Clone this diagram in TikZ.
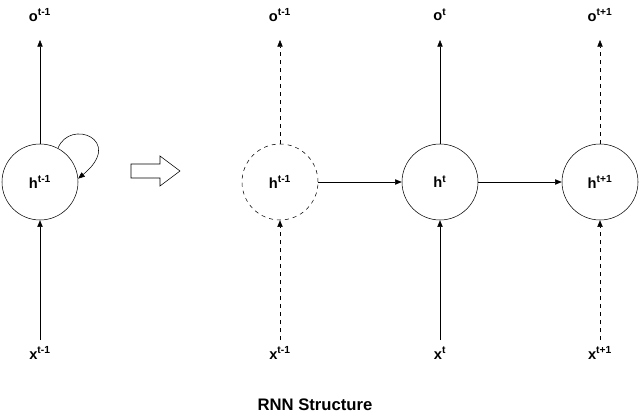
\documentclass[tikz,border=0pt]{standalone}
\usepackage{fontspec}
\setmainfont{Liberation Sans}
\usetikzlibrary{arrows.meta}
\tikzset{
  cell/.style={circle, draw, minimum size=57pt, inner sep=0pt, font=\bfseries\fontsize{11}{13}\selectfont},
  lbl/.style={font=\bfseries\fontsize{11}{13}\selectfont, inner sep=1pt},
  flow/.style={-{Triangle[length=5pt,width=4pt]}},
}
\newcommand{\rnncol}[5] {
  \node[cell, #5] at (#1,182) (h#2) {h\textsuperscript{#3}};
  \node[lbl] at (#1,353) (x#2) {x\textsuperscript{#3}};
  \node[lbl] at (#1,15) (o#2) {o\textsuperscript{#4}};
  \coordinate (top#2) at (#1,40);
  \coordinate (bot#2) at (#1,340);
}
\begin{document}
\begin{tikzpicture}[x=0.75pt, y=-0.75pt]
\useasboundingbox (0,0) rectangle (641,420);
\rnncol {40}{a}{t-1}{t-1}{}
\rnncol {280}{b}{t-1}{t-1}{dashed}
\rnncol {440}{c}{t}{t}{}
\rnncol {600}{d}{t+1}{t+1}{}

% folded cell
\draw[flow] (bota) -- (ha);
\draw[flow] (ha) -- (topa);
\draw[flow] (ha.62) .. controls (70,118) and (125,140) .. (ha.5);

% unfolding arrow
\draw[fill=white] (131,164) -- (160,164) -- (160,156) -- (180,171) -- (160,186) -- (160,178) -- (131,178) -- cycle;

% unrolled cells
\draw[flow, dashed] (botb) -- (hb);
\draw[flow, dashed] (hb) -- (topb);
\draw[flow] (botc) -- (hc);
\draw[flow] (hc) -- (topc);
\draw[flow, dashed] (botd) -- (hd);
\draw[flow, dashed] (hd) -- (topd);
\draw[flow] (hb) -- (hc);
\draw[flow] (hc) -- (hd);

\node[lbl, font=\bfseries\fontsize{12.5}{15}\selectfont] at (315,405) (title) {RNN Structure};
\end{tikzpicture}
\end{document}
